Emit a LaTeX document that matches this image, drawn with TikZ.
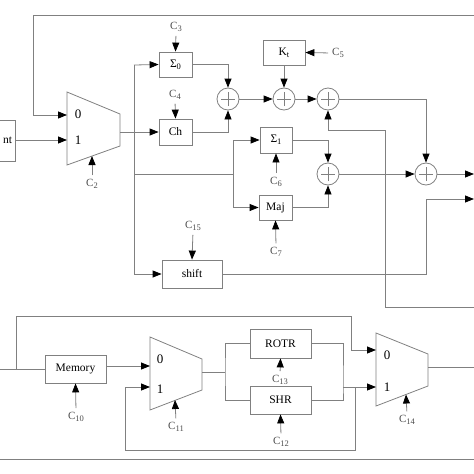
\documentclass[tikz,border=0pt]{standalone}
\usepackage{fontspec}
\setmainfont{Liberation Serif}
\usetikzlibrary{arrows.meta,calc}
\newcommand{\lowsub}[1]{\raisebox{-1.8pt}{\fontsize{8.5}{9}\selectfont #1}}

\begin{document}
\begin{tikzpicture}[
  x=1pt, y=-1pt,
  font=\fontsize{11.5}{12}\selectfont,
  >={Triangle[length=9pt,width=7pt,color=black]},
  wire/.style={draw=black!50, line width=0.8pt},
  sig/.style={->, draw=black!50, line width=0.8pt},
  ctlsig/.style={->, draw=black!50, line width=0.8pt, shorten <=3pt},
  blk/.style={draw=black!50, line width=0.8pt, fill=white, inner sep=0pt},
  adder/.style={circle, draw=black!50, line width=0.8pt, minimum size=22pt, inner sep=0pt,
    path picture={\draw[black!50, line width=0.6pt] (path picture bounding box.center)
      +(-7pt,0) -- +(7pt,0) +(0,-7pt) -- +(0,7pt);}},
  ctl/.style={font=\fontsize{11}{12}\selectfont, text=black!70, inner sep=1pt},
  selno/.style={font=\fontsize{13}{14}\selectfont, inner sep=0pt}
]
  \clip (0,0) rectangle (474,474);

  % upper datapath
  \node[blk, minimum width=54pt, minimum height=41pt, text width=48pt, align=right] (src) at (-12,140.5) {nt};

  \coordinate (m1a) at (67,92);
  \coordinate (m1b) at (120,114);
  \coordinate (m1c) at (120,146);
  \coordinate (m1d) at (67,165);
  \draw[wire] (m1a) -- (m1b) -- (m1c) -- (m1d) -- cycle;
  \coordinate (m1i0) at (67,115);
  \coordinate (m1i1) at (67,140);
  \coordinate (m1o) at (120,132);
  \coordinate (m1s) at (92,156);
  \node[selno] (m1n0) at (78,114) {0};
  \node[selno] (m1n1) at (78,140) {1};

  \node[blk, minimum width=33pt, minimum height=25pt] (sig0) at (175.5,64.5) {Σ\lowsub{0}};
  \node[blk, minimum width=33pt, minimum height=26pt] (ch) at (175.5,132) {Ch};
  \node[blk, minimum width=42pt, minimum height=25pt] (kt) at (284,52.5) {K\lowsub{t}};
  \node[blk, minimum width=32pt, minimum height=26pt] (sig1) at (276,140) {Σ\lowsub{1}};
  \node[blk, minimum width=33pt, minimum height=25pt] (maj) at (275.5,207.5) {Maj};
  \node[blk, minimum width=60pt, minimum height=28pt] (shift) at (192,274) {shift};

  \node[adder] (add1) at (228,99) {};
  \node[adder] (add2) at (284,99) {};
  \node[adder] (add3) at (328,99) {};
  \node[adder] (add5) at (328,174) {};
  \node[adder] (add4) at (426,174) {};

  \node[ctl] (c2) at (92,184) {C\lowsub{2}};
  \node[ctl] (c3) at (176,27) {C\lowsub{3}};
  \node[ctl] (c4) at (175,95) {C\lowsub{4}};
  \node[ctl] (c5) at (338,53) {C\lowsub{5}};
  \node[ctl] (c6) at (276,182) {C\lowsub{6}};
  \node[ctl] (c7) at (276,252) {C\lowsub{7}};
  \node[ctl] (c15) at (193,226) {C\lowsub{15}};

  \coordinate (fb) at (474,15);
  \coordinate (bt) at (134,65);
  \coordinate (bb) at (134,274);
  \coordinate (br) at (233,174);
  \coordinate (o1) at (474,174);
  \coordinate (o2) at (474,199);
  \coordinate (i3) at (474,307);

  \draw[sig] (fb) -| (33,115) -- (m1i0);
  \draw[sig] (src.east |- m1i1) -- (m1i1);
  \draw[sig] (m1o) -- (ch.west);
  \draw[wire] (bt) -- (bb);
  \draw[sig] (bt) -- (sig0.west);
  \draw[sig] (bb) -- (shift.west);
  \draw[wire] (134,174) -- (br);
  \draw[sig] (br) |- (sig1.west);
  \draw[sig] (br) |- (maj.west);
  \draw[sig] (sig0.east) -| (add1.north);
  \draw[sig] (ch.east) -| (add1.south);
  \draw[sig] (add1) -- (add2);
  \draw[sig] (kt) -- (add2);
  \draw[sig] (add2) -- (add3);
  \draw[sig] (add3.east) -| (add4.north);
  \draw[sig] (sig1.east) -| (add5.north);
  \draw[sig] (maj.east) -| (add5.south);
  \draw[sig] (add5) -- (add4);
  \draw[sig] (add4) -- (o1);
  \draw[sig] (shift.east) -| (426,199) -- (o2);
  \draw[sig] (i3) -| (385,130) -| (add3.south);

  \draw[ctlsig] (c2.north) -- (m1s);
  \draw[ctlsig] (c3.south) -- (sig0.north);
  \draw[ctlsig] (c4.south) -- (ch.north);
  \draw[ctlsig] (c5.west) -- (kt.east);
  \draw[ctlsig] (c6.north) -- (sig1.south);
  \draw[ctlsig] (c7.north) -- (maj.south);
  \draw[ctlsig] (c15.south) -- (shift.north);

  % lower datapath
  \node[blk, minimum width=61pt, minimum height=28pt] (mem) at (75.5,369) {Memory};
  \node[blk, minimum width=61pt, minimum height=29pt] (rotr) at (280.5,343.5) {ROTR};
  \node[ctl] (c13) at (280,380) {C\lowsub{13}};
  \node[blk, minimum width=61pt, minimum height=28pt] (shr) at (280.5,400) {SHR};

  \coordinate (m2a) at (150,337);
  \coordinate (m2b) at (202,359);
  \coordinate (m2c) at (202,390);
  \coordinate (m2d) at (150,410);
  \draw[wire] (m2a) -- (m2b) -- (m2c) -- (m2d) -- cycle;
  \coordinate (m2i0) at (150,366);
  \coordinate (m2i1) at (150,387);
  \coordinate (m2o) at (202,372);
  \coordinate (m2s) at (175,400);
  \node[selno] (m2n0) at (160,359) {0};
  \node[selno] (m2n1) at (160,389) {1};

  \coordinate (m3a) at (376,333);
  \coordinate (m3b) at (428,354);
  \coordinate (m3c) at (428,386);
  \coordinate (m3d) at (376,406);
  \draw[wire] (m3a) -- (m3b) -- (m3c) -- (m3d) -- cycle;
  \coordinate (m3i0) at (376,350);
  \coordinate (m3i1) at (376,387);
  \coordinate (m3o) at (428,367);
  \coordinate (m3s) at (406,394.5);
  \node[selno] (m3n0) at (387,355) {0};
  \node[selno] (m3n1) at (387,387) {1};

  \node[ctl] (c10) at (76,417) {C\lowsub{10}};
  \node[ctl] (c11) at (176,427) {C\lowsub{11}};
  \node[ctl] (c12) at (281,442) {C\lowsub{12}};
  \node[ctl] (c14) at (407,420) {C\lowsub{14}};

  \coordinate (li) at (0,369);
  \coordinate (lj) at (16,369);
  \coordinate (fl) at (225,372);
  \coordinate (fr) at (343,387);
  \coordinate (fd) at (355,387);
  \coordinate (lo) at (474,367);
  \coordinate (bl) at (0,459);
  \coordinate (bre) at (474,459);

  \draw[wire] (li) -- (mem.west);
  \draw[sig] (lj) |- (351,316) |- (m3i0);
  \draw[sig] (mem.east |- m2i0) -- (m2i0);
  \draw[wire] (m2o) -- (fl);
  \draw[wire] (rotr.west) -| (fl) |- (shr.west);
  \draw[wire] (rotr.east) -| (fr) |- (shr.east);
  \draw[sig] (fr) -- (m3i1);
  \draw[sig] (fd) |- (125,450) |- (m2i1);
  \draw[wire] (m3o) -- (lo);
  \draw[wire] (bl) -- (bre);

  \draw[ctlsig] (c10.north) -- (mem.south);
  \draw[ctlsig] (c11.north) -- (m2s);
  \draw[ctlsig] (c13.north) -- (rotr.south);
  \draw[ctlsig] (c12.north) -- (shr.south);
  \draw[ctlsig] (c14.north) -- (m3s);
\end{tikzpicture}
\end{document}
